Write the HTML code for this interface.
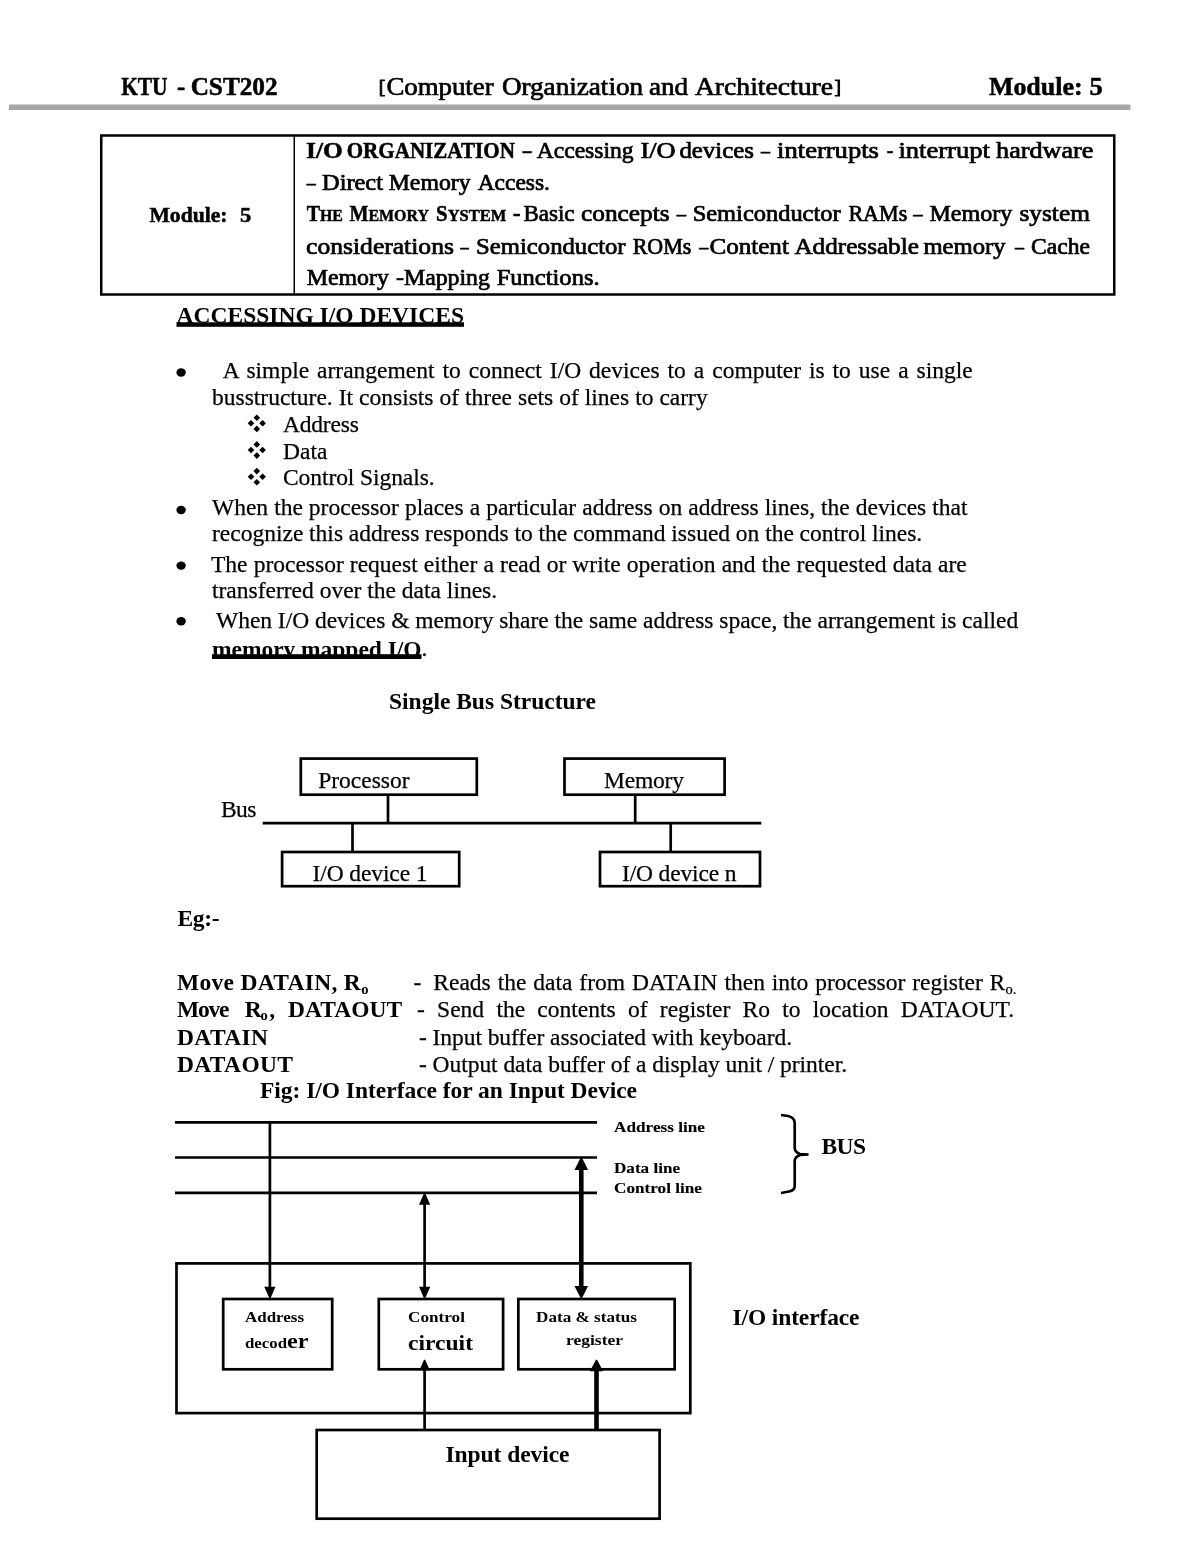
<!DOCTYPE html>
<html lang="en">
<head>
<meta charset="utf-8">
<title>KTU - CST202 Computer Organization and Architecture - Module 5</title>
<style>
html,body{margin:0;padding:0;background:#fff;}
body{width:1200px;height:1553px;overflow:hidden;font-family:"Liberation Serif",serif;}
svg{display:block;will-change:transform;}
svg text{font-family:"Liberation Serif",serif;fill:#000;white-space:pre;stroke:#000;stroke-width:0.25px;stroke-linejoin:round;}
</style>
</head>
<body>
<svg width="1200" height="1553" viewBox="0 0 1200 1553">
<text y="94.5" font-size="25" font-weight="bold" style="stroke-width:0.5px"><tspan x="121.15" textLength="46.45" lengthAdjust="spacingAndGlyphs">KTU</tspan> <tspan x="176.9" textLength="8.2" lengthAdjust="spacingAndGlyphs">-</tspan> <tspan x="190.65" textLength="86.95" lengthAdjust="spacingAndGlyphs">CST202</tspan></text>
<text x="378.8" y="93" font-size="19.5" style="stroke-width:1.0px">[</text>
<text y="94.5" font-size="25" style="stroke-width:0.7px"><tspan x="386.4" textLength="107.2" lengthAdjust="spacingAndGlyphs">Computer</tspan> <tspan x="501.9" textLength="141.2" lengthAdjust="spacingAndGlyphs">Organization</tspan> <tspan x="648.9" textLength="39.2" lengthAdjust="spacingAndGlyphs">and</tspan> <tspan x="694.9" textLength="138.2" lengthAdjust="spacingAndGlyphs">Architecture</tspan></text>
<text x="834.6" y="93" font-size="19.5" style="stroke-width:1.0px">]</text>
<text y="94.5" font-size="25" font-weight="bold" style="stroke-width:0.5px"><tspan x="988.9" textLength="93.7" lengthAdjust="spacingAndGlyphs">Module:</tspan> <tspan x="1089.4" textLength="13.2" lengthAdjust="spacingAndGlyphs">5</tspan></text>
<rect x="9" y="104.5" width="1121.5" height="5.5" fill="#a6a6a6"/>
<rect x="101.25" y="135.5" width="1013" height="159" fill="none" stroke="#000" stroke-width="2.5"/>
<line x1="294.25" y1="135.5" x2="294.25" y2="294.5" stroke="#000" stroke-width="1.5"/>
<text y="222" font-size="21.5" font-weight="bold" style="stroke-width:0.5px"><tspan x="149.4" textLength="78.2" lengthAdjust="spacingAndGlyphs">Module:</tspan> <tspan x="239.9" textLength="11.2" lengthAdjust="spacingAndGlyphs">5</tspan></text>
<text y="158" font-size="22.2" font-weight="bold" style="stroke-width:0.5px"><tspan x="306.1" textLength="36.8" lengthAdjust="spacingAndGlyphs">I/O</tspan> <tspan x="346.7" textLength="168.2" lengthAdjust="spacingAndGlyphs">ORGANIZATION</tspan> <tspan x="522.8" textLength="8.7" lengthAdjust="spacingAndGlyphs">–</tspan></text>
<text y="158" font-size="22.2" style="stroke-width:0.7px"><tspan x="536.7" textLength="96.9" lengthAdjust="spacingAndGlyphs">Accessing</tspan> <tspan x="640.4" textLength="35.2" lengthAdjust="spacingAndGlyphs">I/O</tspan> <tspan x="679.4" textLength="74.5" lengthAdjust="spacingAndGlyphs">devices</tspan> <tspan x="761" textLength="9" lengthAdjust="spacingAndGlyphs">–</tspan> <tspan x="777.1" textLength="101.8" lengthAdjust="spacingAndGlyphs">interrupts</tspan> <tspan x="886.7" textLength="6.6" lengthAdjust="spacingAndGlyphs">-</tspan> <tspan x="898.4" textLength="91.5" lengthAdjust="spacingAndGlyphs">interrupt</tspan> <tspan x="996.1" textLength="97.2" lengthAdjust="spacingAndGlyphs">hardware</tspan></text>
<text y="190" font-size="22.2" style="stroke-width:0.7px"><tspan x="306.7" textLength="9.0" lengthAdjust="spacingAndGlyphs">–</tspan> <tspan x="322.1" textLength="60.8" lengthAdjust="spacingAndGlyphs">Direct</tspan> <tspan x="388.7" textLength="81.9" lengthAdjust="spacingAndGlyphs">Memory</tspan> <tspan x="477.7" textLength="72.2" lengthAdjust="spacingAndGlyphs">Access.</tspan></text>
<text y="221.3" font-size="22.2" font-weight="bold" style="stroke-width:0.5px"><tspan x="306.7" textLength="36.2" lengthAdjust="spacingAndGlyphs">T<tspan font-size="17.6">HE</tspan></tspan> <tspan x="349.4" textLength="79.5" lengthAdjust="spacingAndGlyphs">M<tspan font-size="17.6">EMORY</tspan></tspan> <tspan x="436.1" textLength="70.2" lengthAdjust="spacingAndGlyphs">S<tspan font-size="17.6">YSTEM</tspan></tspan></text>
<text y="221.3" font-size="22.2" font-weight="bold" style="stroke-width:0.5px"><tspan x="512.7" textLength="7.9" lengthAdjust="spacingAndGlyphs">-</tspan></text>
<text y="221.3" font-size="22.2" style="stroke-width:0.7px"><tspan x="523.4" textLength="51.2" lengthAdjust="spacingAndGlyphs">Basic</tspan> <tspan x="581.1" textLength="88.5" lengthAdjust="spacingAndGlyphs">concepts</tspan> <tspan x="676.7" textLength="9.3" lengthAdjust="spacingAndGlyphs">–</tspan> <tspan x="692.7" textLength="147.9" lengthAdjust="spacingAndGlyphs">Semiconductor</tspan> <tspan x="848.4" textLength="58.9" lengthAdjust="spacingAndGlyphs">RAMs</tspan> <tspan x="913.3" textLength="9.4" lengthAdjust="spacingAndGlyphs">–</tspan> <tspan x="929.4" textLength="82.9" lengthAdjust="spacingAndGlyphs">Memory</tspan> <tspan x="1019.4" textLength="70.5" lengthAdjust="spacingAndGlyphs">system</tspan></text>
<text y="253.5" font-size="22.2" style="stroke-width:0.7px"><tspan x="306.1" textLength="147.8" lengthAdjust="spacingAndGlyphs">considerations</tspan> <tspan x="460.5" textLength="8.2" lengthAdjust="spacingAndGlyphs">–</tspan> <tspan x="476.1" textLength="149.5" lengthAdjust="spacingAndGlyphs">Semiconductor</tspan> <tspan x="632.7" textLength="58.6" lengthAdjust="spacingAndGlyphs">ROMs</tspan> <tspan x="699.3" textLength="9.0" lengthAdjust="spacingAndGlyphs">–</tspan><tspan x="709.4" textLength="79.5" lengthAdjust="spacingAndGlyphs">Content</tspan> <tspan x="794.4" textLength="124.5" lengthAdjust="spacingAndGlyphs">Addressable</tspan> <tspan x="923.4" textLength="82.2" lengthAdjust="spacingAndGlyphs">memory</tspan> <tspan x="1015" textLength="9" lengthAdjust="spacingAndGlyphs">–</tspan> <tspan x="1031.1" textLength="58.8" lengthAdjust="spacingAndGlyphs">Cache</tspan></text>
<text y="284.5" font-size="22.2" style="stroke-width:0.7px"><tspan x="306.7" textLength="82.2" lengthAdjust="spacingAndGlyphs">Memory</tspan> <tspan x="396.1" textLength="93.8" lengthAdjust="spacingAndGlyphs">-Mapping</tspan> <tspan x="496.7" textLength="102.9" lengthAdjust="spacingAndGlyphs">Functions.</tspan></text>
<clipPath id="c1"><rect x="171.5" y="293.3" width="297.5" height="33.5"/></clipPath>
<text x="176.5" y="323.3" font-size="23.5" font-weight="bold" textLength="287.5" lengthAdjust="spacing" clip-path="url(#c1)" style="stroke-width:0">ACCESSING I/O DEVICES</text>
<rect x="176.5" y="322.3" width="287.5" height="4.5" fill="#000"/>
<ellipse cx="181.1" cy="372.5" rx="4.7" ry="4.2" fill="#000"/>
<text x="222.8" y="378.4" font-size="23.5" word-spacing="2.103">A simple arrangement to connect I/O devices to a computer is to use a single</text>
<text x="212" y="404.9" font-size="23.5" word-spacing="0.113">busstructure. It consists of three sets of lines to carry</text>
<polygon points="256.8,414.4 260.1,417.7 256.8,421.0 253.5,417.7" fill="#000"/>
<polygon points="251.0,420.0 254.3,423.3 251.0,426.6 247.7,423.3" fill="#000"/>
<polygon points="262.6,420.0 265.9,423.3 262.6,426.6 259.3,423.3" fill="#000"/>
<polygon points="256.8,425.6 260.1,428.9 256.8,432.2 253.5,428.9" fill="#000"/>
<text x="283" y="432.0" font-size="23.5" textLength="75.8" lengthAdjust="spacing">Address</text>
<polygon points="256.8,441.1 260.1,444.4 256.8,447.7 253.5,444.4" fill="#000"/>
<polygon points="251.0,446.7 254.3,450.0 251.0,453.3 247.7,450.0" fill="#000"/>
<polygon points="262.6,446.7 265.9,450.0 262.6,453.3 259.3,450.0" fill="#000"/>
<polygon points="256.8,452.3 260.1,455.6 256.8,458.9 253.5,455.6" fill="#000"/>
<text x="283" y="458.7" font-size="23.5">Data</text>
<polygon points="256.8,467.8 260.1,471.1 256.8,474.4 253.5,471.1" fill="#000"/>
<polygon points="251.0,473.4 254.3,476.7 251.0,480.0 247.7,476.7" fill="#000"/>
<polygon points="262.6,473.4 265.9,476.7 262.6,480.0 259.3,476.7" fill="#000"/>
<polygon points="256.8,479.0 260.1,482.3 256.8,485.6 253.5,482.3" fill="#000"/>
<text x="283" y="485.4" font-size="23.5" textLength="151.6" lengthAdjust="spacing">Control Signals.</text>
<ellipse cx="181.1" cy="510" rx="4.7" ry="4.2" fill="#000"/>
<text x="212" y="515" font-size="23.5" word-spacing="0.152">When the processor places a particular address on address lines, the devices that</text>
<text x="212" y="541" font-size="23.5" word-spacing="-0.106">recognize this address responds to the command issued on the control lines.</text>
<ellipse cx="181.1" cy="565.6" rx="4.7" ry="4.2" fill="#000"/>
<text x="211" y="571.8" font-size="23.5" word-spacing="0.262">The processor request either a read or write operation and the requested data are</text>
<text x="212" y="598" font-size="23.5">transferred over the data lines.</text>
<ellipse cx="181.1" cy="621.2" rx="4.7" ry="4.2" fill="#000"/>
<text x="216" y="628.2" font-size="23.5" word-spacing="-0.131">When I/O devices &amp; memory share the same address space, the arrangement is called</text>
<clipPath id="c2"><rect x="207" y="626.6" width="219.5" height="32.39999999999998"/></clipPath>
<text x="212" y="656.6" font-size="23.5" font-weight="bold" textLength="209.5" lengthAdjust="spacing" clip-path="url(#c2)" style="stroke-width:0">memory mapped I/O</text>
<rect x="212" y="654.2" width="209.5" height="4.7999999999999545" fill="#000"/>
<text x="421.5" y="656.4" font-size="23.5">.</text>
<text x="389" y="709" font-size="23.5" font-weight="bold" textLength="207" lengthAdjust="spacing" style="stroke-width:0">Single Bus Structure</text>
<rect x="300.8" y="758.6" width="176" height="36.1" fill="none" stroke="#000" stroke-width="2.7"/>
<rect x="564.5" y="758.6" width="160.1" height="36.1" fill="none" stroke="#000" stroke-width="2.7"/>
<text x="318.2" y="787.6" font-size="23.5" textLength="91.4" lengthAdjust="spacing">Processor</text>
<text x="604" y="788" font-size="23.5" textLength="80" lengthAdjust="spacing">Memory</text>
<text x="221" y="817.2" font-size="23.5" textLength="35.4" lengthAdjust="spacing">Bus</text>
<line x1="262.7" y1="823.2" x2="761.3" y2="823.2" stroke="#000" stroke-width="2.7"/>
<line x1="388" y1="795" x2="388" y2="823" stroke="#000" stroke-width="2.7"/>
<line x1="635.2" y1="795" x2="635.2" y2="823" stroke="#000" stroke-width="2.7"/>
<line x1="352.5" y1="823" x2="352.5" y2="852" stroke="#000" stroke-width="2.7"/>
<line x1="670.7" y1="823" x2="670.7" y2="852" stroke="#000" stroke-width="2.7"/>
<rect x="282.1" y="852" width="177.1" height="34.2" fill="none" stroke="#000" stroke-width="2.7"/>
<rect x="600" y="852" width="160" height="34.2" fill="none" stroke="#000" stroke-width="2.7"/>
<text x="312.5" y="880.8" font-size="23.5" textLength="115" lengthAdjust="spacing">I/O device 1</text>
<text x="622" y="880.8" font-size="23.5" textLength="114.5" lengthAdjust="spacing">I/O device n</text>
<text x="177.5" y="926" font-size="23.5" font-weight="bold" textLength="42" lengthAdjust="spacing" style="stroke-width:0">Eg:-</text>
<text y="990" font-size="23.5" font-weight="bold" style="stroke-width:0"><tspan x="177" textLength="183.8" lengthAdjust="spacing">Move DATAIN, R</tspan><tspan x="361.3" y="993.6" font-size="14.5">o</tspan></text>
<text y="990" font-size="23.5"><tspan x="413.5">-</tspan>  <tspan x="433.3" word-spacing="1.042">Reads the data from DATAIN then into processor register R</tspan><tspan x="1005.5" y="993.6" font-size="14.5">o.</tspan></text>
<text y="1016.5" font-size="23.5" font-weight="bold" style="stroke-width:0"><tspan x="177" textLength="52.5" lengthAdjust="spacing">Move</tspan>  <tspan x="244.8">R</tspan><tspan x="260.5" y="1020.2" font-size="14.5">o</tspan><tspan x="269.3" y="1016.5">,</tspan> <tspan x="288" textLength="114.3" lengthAdjust="spacing">DATAOUT</tspan></text>
<text x="417" y="1016.5" font-size="23.5" word-spacing="0.264">-  Send  the  contents  of  register  Ro  to  location  DATAOUT.</text>
<text x="177" y="1044.7" font-size="23.5" font-weight="bold" textLength="91" lengthAdjust="spacing" style="stroke-width:0">DATAIN</text>
<text x="419" y="1044.7" font-size="23.5" textLength="373" lengthAdjust="spacing">- Input buffer associated with keyboard.</text>
<text x="177" y="1071.7" font-size="23.5" font-weight="bold" textLength="116" lengthAdjust="spacing" style="stroke-width:0">DATAOUT</text>
<text x="419" y="1071.7" font-size="23.5" textLength="428" lengthAdjust="spacing">- Output data buffer of a display unit / printer.</text>
<text x="260" y="1098.2" font-size="23.5" font-weight="bold" textLength="377" lengthAdjust="spacing" style="stroke-width:0">Fig: I/O Interface for an Input Device</text>
<line x1="175" y1="1122.3" x2="597" y2="1122.3" stroke="#000" stroke-width="2.7"/>
<line x1="175" y1="1157.5" x2="597" y2="1157.5" stroke="#000" stroke-width="2.7"/>
<line x1="175" y1="1192.9" x2="597" y2="1192.9" stroke="#000" stroke-width="2.7"/>
<text x="614" y="1131.5" font-size="15.2" font-weight="bold" textLength="91" lengthAdjust="spacingAndGlyphs" style="stroke-width:0.12px">Address line</text>
<text x="614" y="1172.5" font-size="15.2" font-weight="bold" textLength="66" lengthAdjust="spacingAndGlyphs" style="stroke-width:0.12px">Data line</text>
<text x="614" y="1192.5" font-size="15.2" font-weight="bold" textLength="88" lengthAdjust="spacingAndGlyphs" style="stroke-width:0.12px">Control line</text>
<path d="M781,1115 L788,1116 Q794.7,1117.5 794.7,1123 L794.7,1148 Q794.7,1152 800,1154 L808.5,1154.5 L800,1155 Q794.7,1157 794.7,1161 L794.7,1186 Q794.7,1190.5 789,1191.5 L781,1193" fill="none" stroke="#000" stroke-width="2.7"/>
<text x="821.5" y="1153.5" font-size="23.5" font-weight="bold" textLength="44.5" lengthAdjust="spacing" style="stroke-width:0">BUS</text>
<rect x="176.5" y="1263.4" width="513.8" height="149.7" fill="none" stroke="#000" stroke-width="2.7"/>
<rect x="223.2" y="1299" width="109" height="70.3" fill="none" stroke="#000" stroke-width="2.7"/>
<rect x="378.8" y="1299" width="124.3" height="70.3" fill="none" stroke="#000" stroke-width="2.7"/>
<rect x="518.35" y="1299" width="156.3" height="70.3" fill="none" stroke="#000" stroke-width="2.7"/>
<rect x="316.7" y="1430" width="342.9" height="88.7" fill="none" stroke="#000" stroke-width="2.7"/>
<line x1="269.9" y1="1122.3" x2="269.9" y2="1290" stroke="#000" stroke-width="2.7"/>
<polygon points="264.29999999999995,1286.7 275.5,1286.7 270.5,1298.2 269.29999999999995,1298.2" fill="#000"/>
<line x1="424.6" y1="1200" x2="424.6" y2="1290" stroke="#000" stroke-width="2.7"/>
<polygon points="419.0,1204.8 430.20000000000005,1204.8 425.20000000000005,1193.3 424.0,1193.3" fill="#000"/>
<polygon points="419.0,1286.7 430.20000000000005,1286.7 425.20000000000005,1298.2 424.0,1298.2" fill="#000"/>
<line x1="581.3" y1="1165" x2="581.3" y2="1290" stroke="#000" stroke-width="4.6"/>
<polygon points="574.5,1170.0 588.0999999999999,1170.0 581.9,1157.5 580.6999999999999,1157.5" fill="#000"/>
<polygon points="574.5,1286.0 588.0999999999999,1286.0 581.9,1298.3 580.6999999999999,1298.3" fill="#000"/>
<line x1="424.6" y1="1368" x2="424.6" y2="1430" stroke="#000" stroke-width="2.7"/>
<polygon points="419.40000000000003,1370.2 429.8,1370.2 425.20000000000005,1359.7 424.0,1359.7" fill="#000"/>
<line x1="596.5" y1="1368" x2="596.5" y2="1430" stroke="#000" stroke-width="4.6"/>
<polygon points="589.9,1371.2 603.1,1371.2 597.1,1359.7 595.9,1359.7" fill="#000"/>
<text x="245" y="1322.3" font-size="15.2" font-weight="bold" textLength="59" lengthAdjust="spacingAndGlyphs" style="stroke-width:0px">Address</text>
<text y="1347.6" font-size="15.2" font-weight="bold" style="stroke-width:0"><tspan x="245" textLength="42" lengthAdjust="spacingAndGlyphs">decod</tspan><tspan x="287" font-size="21" textLength="21.5" lengthAdjust="spacingAndGlyphs">er</tspan></text>
<text x="408" y="1322.3" font-size="15.2" font-weight="bold" textLength="57" lengthAdjust="spacingAndGlyphs" style="stroke-width:0">Control</text>
<text x="408" y="1349.6" font-size="21" font-weight="bold" textLength="65" lengthAdjust="spacingAndGlyphs" style="stroke-width:0">circuit</text>
<text x="536" y="1322.3" font-size="15.2" font-weight="bold" textLength="101" lengthAdjust="spacingAndGlyphs" style="stroke-width:0">Data &amp; status</text>
<text x="566" y="1344.6" font-size="15.2" font-weight="bold" textLength="57" lengthAdjust="spacingAndGlyphs" style="stroke-width:0">register</text>
<text x="732.5" y="1325" font-size="23.5" font-weight="bold" textLength="127" lengthAdjust="spacing" style="stroke-width:0">I/O interface</text>
<text x="445.5" y="1461.5" font-size="23.5" font-weight="bold" textLength="124" lengthAdjust="spacing" style="stroke-width:0">Input device</text>
</svg>
</body>
</html>
